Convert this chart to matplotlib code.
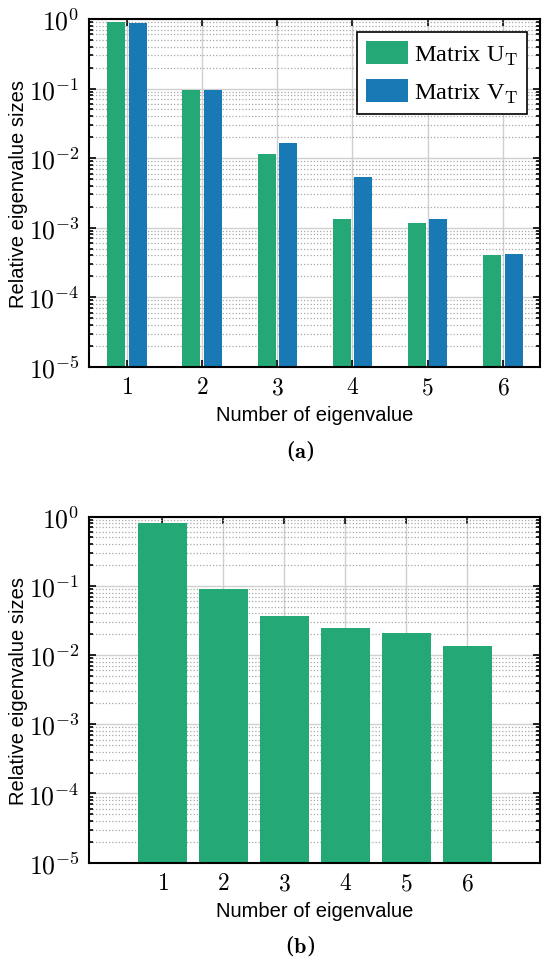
import numpy as np
import matplotlib
matplotlib.use("Agg")
import matplotlib.pyplot as plt
from matplotlib.ticker import LogLocator, NullFormatter

plt.rcParams['font.family'] = ['Liberation Sans', 'DejaVu Sans']
plt.rcParams['mathtext.fontset'] = 'cm'

# Daten
eig_nr = [1, 2, 3, 4, 5, 6]
u_t = [0.897, 0.096, 0.0114, 0.00131, 0.00117, 0.000398]
v_t = [0.875, 0.096, 0.0163, 0.00527, 0.00134, 0.000416]
eig_b = [0.811, 0.0902, 0.0363, 0.0246, 0.0211, 0.0135]
y_ticks = [1e-5, 1e-4, 1e-3, 1e-2, 1e-1, 1e0]
y_labels = [r'$10^{-5}$', r'$10^{-4}$', r'$10^{-3}$', r'$10^{-2}$',
            r'$10^{-1}$', r'$10^{0}$']

gruen = '#23a876'
blau = '#1979b5'

fig = plt.figure(figsize=(5.5, 9.62), dpi=100)
ax1 = fig.add_axes([0.1624, 0.6178, 0.8203, 0.3614])
ax2 = fig.add_axes([0.1624, 0.1022, 0.8203, 0.3597])


def style(ax, xlim):
    """Gemeinsame Achseneinstellungen (MATLAB-Look)"""
    ax.set_yscale('log')
    ax.set_ylim(1e-5, 1)
    ax.set_xlim(*xlim)
    ax.set_yticks(y_ticks)
    ax.set_yticklabels(y_labels)
    ax.yaxis.set_minor_locator(LogLocator(base=10, subs=np.arange(2, 10), numticks=20))
    ax.yaxis.set_minor_formatter(NullFormatter())
    ax.set_xticks(eig_nr)
    ax.set_xticklabels([f'${n}$' for n in eig_nr])
    ax.set_axisbelow(True)
    ax.grid(True, which='major', color='#d0d0d0', linewidth=1.0, linestyle='-')
    ax.grid(True, which='minor', axis='y', color='#a8a8a8', linewidth=0.9,
            linestyle=(0, (1, 1.6)))
    ax.tick_params(which='both', direction='in', top=True, right=True,
                   width=1.2, color='black')
    ax.tick_params(axis='y', labelsize=18.5)
    ax.tick_params(axis='x', labelsize=17)
    ax.tick_params(which='major', length=5, pad=7)
    ax.tick_params(which='minor', length=3)
    for s in ax.spines.values():
        s.set_linewidth(1.5)
        s.set_color('black')
    ax.set_ylabel('Relative eigenvalue sizes', fontsize=14.5, labelpad=0)
    ax.set_xlabel('Number of eigenvalue', fontsize=14.5, labelpad=5)


# Oberer Plot (a)
x = np.array(eig_nr)
ax1.bar(x - 0.143, u_t, width=0.238, color=gruen, label=r'Matrix U$_{\mathrm{T}}$')
ax1.bar(x + 0.143, v_t, width=0.238, color=blau, label=r'Matrix V$_{\mathrm{T}}$')
style(ax1, (0.5, 6.5))
leg = ax1.legend(loc='upper right', fancybox=False, edgecolor='black',
                 framealpha=1, handlelength=1.75, handleheight=1.1,
                 borderaxespad=0.55, labelspacing=0.5, handletextpad=0.25,
                 borderpad=0.35,
                 prop={'family': 'Liberation Serif', 'size': 17.5})
leg.get_frame().set_linewidth(1.2)

# Unterer Plot (b)
ax2.bar(x, eig_b, width=0.81, color=gruen)
style(ax2, (-0.2, 7.2))

# Bildunterschriften
fig.text(0.545, 1 - 451 / 962, r'($\mathbf{a}$)', ha='center', va='center',
         fontsize=16, family='DejaVu Serif')
fig.text(0.545, 1 - 946 / 962, r'($\mathbf{b}$)', ha='center', va='center',
         fontsize=16, family='DejaVu Serif')

fig.savefig('out.png', dpi=100)
